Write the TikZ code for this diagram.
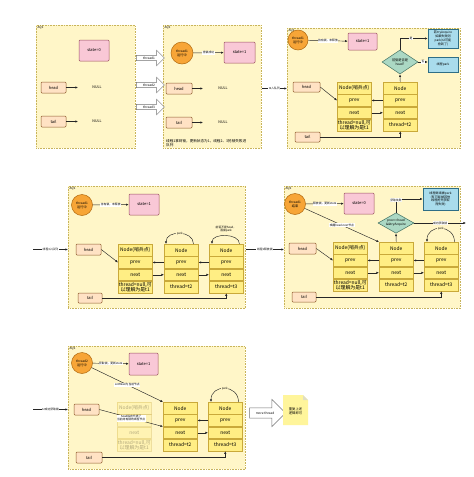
\documentclass[tikz,border=0pt]{standalone}
\usepackage{fontspec}
\setmainfont{Noto Sans CJK SC}
\usetikzlibrary{arrows.meta,shapes.geometric,shapes.arrows}
\definecolor{panelfill}{HTML}{FFF6C8}
\definecolor{paneldraw}{HTML}{C8B45A}
\definecolor{cellfill}{HTML}{FFEE84}
\definecolor{celldraw}{HTML}{C9A93A}
\definecolor{hfill}{HTML}{FFE2C4}
\definecolor{hdraw}{HTML}{8F5A2C}
\definecolor{sfill}{HTML}{F9C8D6}
\definecolor{sdraw}{HTML}{9B4F5F}
\definecolor{tfill}{HTML}{F7A537}
\definecolor{tdraw}{HTML}{B0690E}
\definecolor{bfill}{HTML}{A9DCEC}
\definecolor{bdraw}{HTML}{2E6E86}
\definecolor{dfill}{HTML}{ABD8C4}
\definecolor{ddraw}{HTML}{3F6F60}
\definecolor{notefill}{HTML}{FFF59B}
\tikzset{
 every node/.style={font=\fontsize{4}{4.8}\selectfont, inner sep=0.5pt},
 panel/.style={draw=paneldraw, fill=panelfill, densely dotted, line width=0.6pt, anchor=north west, inner sep=0},
 hbox/.style={draw=hdraw, fill=hfill, rounded corners=1pt, minimum width=25, minimum height=11, line width=0.5pt},
 sbox/.style={draw=sdraw, fill=sfill, rounded corners=1pt, minimum width=30, minimum height=21, line width=0.5pt},
 thr/.style={circle, draw=tdraw, fill=tfill, minimum size=21, align=center, line width=0.5pt, font=\fontsize{3.2}{3.8}\selectfont},
 cell/.style={draw=celldraw, fill=cellfill, minimum width=34, minimum height=11.8, align=center, font=\fontsize{4.9}{5.4}\selectfont, line width=0.5pt, inner sep=0},
 bbox/.style={draw=bdraw, fill=bfill, minimum width=30, align=center, line width=0.5pt, font=\fontsize{3.1}{3.8}\selectfont},
 dia/.style={diamond, draw=ddraw, fill=dfill, minimum width=36, minimum height=24, aspect=1.5, align=center, inner sep=0, line width=0.5pt, font=\fontsize{3.2}{3.9}\selectfont},
 arr/.style={draw=black!85, line width=0.45pt, -{Latex[length=2.6pt,width=2.2pt]}},
 lab/.style={fill=white, inner sep=0.6pt, align=center, font=\fontsize{2.8}{3.3}\selectfont},
 bigarr/.style={single arrow, draw=black!55, fill=white, line width=0.5pt, single arrow head indent=0pt, font=\fontsize{3.2}{3.8}\selectfont},
 aqs/.style={anchor=north west, font=\fontsize{3}{3.5}\selectfont, inner sep=0},
 nul/.style={font=\fontsize{3.6}{4.2}\selectfont},
}
\newcommand\qcol[6]{%
 \node[cell,anchor=north west,#6] (#1n) at (#2,#3) {#4};
 \node[cell,anchor=north,#6] (#1p) at (#1n.south) {prev};
 \node[cell,anchor=north,#6] (#1x) at (#1p.south) {next};
 \node[cell,anchor=north,#6] (#1t) at (#1x.south) {#5};
}
\begin{document}
\begin{tikzpicture}[x=1pt,y=-1pt]
\useasboundingbox (0,0) rectangle (474,477);
\fill[white] (0,0) rectangle (474,477);

% ---------- panel 1 ----------
\node[panel, minimum width=99, minimum height=123] (p1) at (36,25) {};
\node[aqs] (a1) at ([shift={(1.5,1.5)}]p1.north west) {AQS};
\node[sbox] (st1) at (94,50.5) {state=0};
\node[hbox] (hd1) at (53.5,87.5) {head};
\node[hbox] (tl1) at (53.5,121.5) {tail};
\node[nul] (n1a) at (97,87.5) {NULL};
\node[nul] (n1b) at (97,121.5) {NULL};
\coordinate (e1a) at (78,87.5);
\coordinate (e1b) at (78,121.5);
\draw[arr] (hd1.east) -- (e1a);
\draw[arr] (tl1.east) -- (e1b);

% ---------- panel 2 ----------
\node[panel, minimum width=98, minimum height=123] (p2) at (163,25) {};
\node[aqs] (a2) at ([shift={(1.5,1.5)}]p2.north west) {AQS};
\node[thr, minimum size=22] (th2) at (182,53) {thread1\\运行中};
\node[sbox, minimum width=31] (st2) at (239.5,52.5) {state=1};
\draw[arr] (th2) -- node[lab]{抢锁成功} (st2);
\node[hbox, minimum width=26] (hd2) at (179,88.5) {head};
\node[hbox, minimum width=26] (tl2) at (179,122.5) {tail};
\node[nul] (n2a) at (223,88.5) {NULL};
\node[nul] (n2b) at (223,122.5) {NULL};
\coordinate (e2a) at (203,88.5);
\coordinate (e2b) at (203,122.5);
\draw[arr] (hd2.east) -- (e2a);
\draw[arr] (tl2.east) -- (e2b);
\node[anchor=north west, align=left, font=\fontsize{3.6}{4.4}\selectfont] (cap2) at (165.5,138.5) {线程1拿到锁，更新状态为1，线程2、3抢锁失败进\\队列};

% big arrows between panel 1 and 2
\node[bigarr, minimum height=28, single arrow head extend=5pt, inner sep=1.2pt] (g1) at (149,58) {thread1};
\node[bigarr, minimum height=28, single arrow head extend=5pt, inner sep=1.2pt] (g2) at (149,85) {thread2};
\node[bigarr, minimum height=28, single arrow head extend=5pt, inner sep=1.2pt] (g3) at (149,107) {thread3};

% ---------- panel 3 ----------
\node[panel, minimum width=173, minimum height=120] (p3) at (287,28) {};
\node[aqs] (a3) at ([shift={(1.5,1.5)}]p3.north west) {AQS};
\draw[arr] (p2.east |- hd2) -- node[lab]{t2入队列} (p3.west |- hd2);
\node[thr, minimum size=20] (th3) at (298,40) {thread1\\运行中};
\node[sbox, minimum width=29, minimum height=17] (st3) at (362.5,41.5) {state=1};
\draw[arr] (th3) -- node[lab]{持有锁，未释放} (st3);
\node[hbox, minimum width=27, minimum height=10] (hd3) at (306.5,87) {head};
\node[hbox, minimum width=25, minimum height=10] (tl3) at (307.5,137) {tail};
\qcol{A3}{337}{82}{Node(哨兵点)}{thread=null,可\\以理解为是t1}{}
\qcol{B3}{383}{82}{Node}{thread=t2}{}
\node[dia] (d3) at (400,62) {前驱是否是\\head?};
\node[bbox, minimum height=19] (q3) at (443,38.5) {若tryAcquire\\如果失败则\\park(t2可能\\抢到了)};
\node[bbox, minimum height=15] (r3) at (443,64.5) {线程park};
\draw[arr] (d3.north) |- node[lab, pos=0.7]{是} (q3.west);
\draw[arr] (d3.east) -- node[lab]{否} (d3.east -| r3.west);
\draw[arr] (B3n.north) -- (d3.south);
\draw[arr] (hd3.east) -- (A3p.west);
\draw[arr] (B3p.west) -- (A3p.east);
\draw[arr] (A3x.east) -- (B3x.west);
\draw[arr] (tl3.east) -| (B3t.south);

% ---------- panel 4 ----------
\node[panel, minimum width=177, minimum height=122] (p4) at (68,186) {};
\node[aqs] (a4) at ([shift={(1.5,1.5)}]p4.north west) {AQS};
\coordinate (i4) at (33,249.5);
\node[thr] (th4) at (82,205) {thread1\\运行中};
\node[sbox] (st4) at (144,204.5) {state=1};
\draw[arr] (th4) -- node[lab]{持有锁，未释放} (st4);
\node[hbox] (hd4) at (88.5,249.5) {head};
\draw[arr] (i4) -- node[lab]{线程3入队列} (p4.west |- i4);
\node[hbox, minimum width=24, minimum height=10] (tl4) at (90,298) {tail};
\qcol{A4}{118}{244}{Node(哨兵点)}{thread=null,可\\以理解为是t1}{}
\qcol{B4}{164}{244}{Node}{thread=t2}{}
\qcol{C4}{209}{244}{Node}{thread=t3}{}
\draw[arr] ([xshift=-5]B4n.north east) .. controls +(0,-14) and +(0,-14) .. node[lab, pos=0.5, fill=panelfill]{park} ([xshift=2]B4n.north west);
\draw[arr] ([xshift=-4]C4n.north east) .. controls +(0,-11) and +(0,-11) .. ([xshift=3]C4n.north west);
\node[lab, fill=none] (L4) at (226,229) {前驱不是head，\\直接park};
\draw[arr] (hd4.east) -- (A4p.west);
\draw[arr] (B4p.west) -- (A4p.east);
\draw[arr] (A4x.east) -- (B4x.west);
\draw[arr] (C4p.west) -- (B4p.east);
\draw[arr] (B4x.east) -- (C4x.west);
\draw[arr] (tl4.east) -| (C4t.south);

% ---------- panel 5 ----------
\node[panel, minimum width=176, minimum height=122] (p5) at (284,186) {};
\node[aqs] (a5) at ([shift={(1.5,1.5)}]p5.north west) {AQS};
\draw[arr] (p4.east |- hd4) -- node[lab]{线程1释放锁} (p5.west |- hd4);
\node[thr] (th5) at (295,204) {thread1\\结束};
\node[sbox] (st5) at (359,203.5) {state=0};
\draw[arr] (th5) -- node[lab]{释放锁，更新state} (st5);
\node[hbox, minimum width=27] (hd5) at (302.5,248.5) {head};
\node[hbox, minimum width=24, minimum height=10] (tl5) at (304,297) {tail};
\qcol{A5}{333}{242}{Node(哨兵点)}{thread=null,可\\以理解为是t1}{}
\qcol{B5}{379}{242}{Node}{thread=t2}{}
\qcol{C5}{424}{242}{Node}{thread=t3}{}
\node[dia, minimum height=20] (d5) at (396,223) {prev==head\\\&\&tryAcquire};
\node[bbox, minimum width=35, minimum height=22] (q5) at (440.5,199) {线程继续被park\\(有可能被其他\\线程抢先获取\\而失败)};
\coordinate (o5) at (466,223);
\draw[arr] (d5.north) |- node[lab, pos=0.45]{获取失败} (q5.west);
\draw[arr] (d5.east) -- node[lab]{成功获取锁} (o5);
\draw[arr] (th5) -- node[lab]{唤醒head.next节点} (B5n.north west);
\draw[arr] (B5n.north) -- (d5.south);
\draw[arr] ([xshift=-4]C5n.north east) .. controls +(0,-18) and +(0,-18) .. node[lab, pos=0.5, fill=panelfill]{park} ([xshift=3]C5n.north west);
\draw[arr] (hd5.east) -- (A5p.west);
\draw[arr] (B5p.west) -- (A5p.east);
\draw[arr] (A5x.east) -- (B5x.west);
\draw[arr] (C5p.west) -- (B5p.east);
\draw[arr] (B5x.east) -- (C5x.west);
\draw[arr] (tl5.east) -| (C5t.south);

% ---------- panel 6 ----------
\node[panel, minimum width=177, minimum height=123] (p6) at (68,346) {};
\node[aqs] (a6) at ([shift={(1.5,1.5)}]p6.north west) {AQS};
\coordinate (i6) at (33,409.5);
\node[thr] (th6) at (82,363) {thread2\\运行中};
\node[sbox, minimum width=29, minimum height=22] (st6) at (143.5,364) {state=1};
\draw[arr] (th6) -- node[lab]{获取锁，更新state} (st6);
\node[hbox] (hd6) at (86.5,409.5) {head};
\draw[arr] (i6) -- node[lab]{t2成功获取锁} (p6.west |- i6);
\node[hbox, minimum width=26, minimum height=11] (tl6) at (89,457.5) {tail};
\qcol{A6}{117}{402}{Node(哨兵点)}{thread=null,可\\以理解为是t1}{opacity=0.3}
\qcol{B6}{163}{402}{Node}{thread=t2}{}
\qcol{C6}{208}{402}{Node}{thread=t3}{}
\draw[arr] (th6) -- node[lab]{setHead为当前节点} (B6n.north west);
\draw[arr] (hd6.east) -- node[lab]{head指向代表了\\当前持有锁的线程节点} (B6p.south west);
\draw[arr] (C6p.west) -- (B6p.east);
\draw[arr] (B6x.east) -- (C6x.west);
\draw[arr] (tl6.east) -| (C6t.south);
\draw[arr] ([xshift=-4]C6n.north east) .. controls +(0,-18) and +(0,-18) .. node[lab, pos=0.5, fill=panelfill]{park} ([xshift=3]C6n.north west);

% more thread arrow and note
\node[bigarr, minimum height=36, single arrow head extend=8.5pt, inner xsep=2pt, inner ysep=3.5pt] (g6) at (265,413) {more thread};
\fill[notefill] (283,395) -- (303,395) -- (308,400) -- (308,425) -- (283,425) -- cycle;
\fill[notefill!70!black!40] (303,395) -- (303,400) -- (308,400) -- cycle;
\node[align=center, font=\fontsize{3.3}{4.2}\selectfont] (note) at (295.5,411) {重复上述\\逻辑即可};
\end{tikzpicture}
\end{document}
